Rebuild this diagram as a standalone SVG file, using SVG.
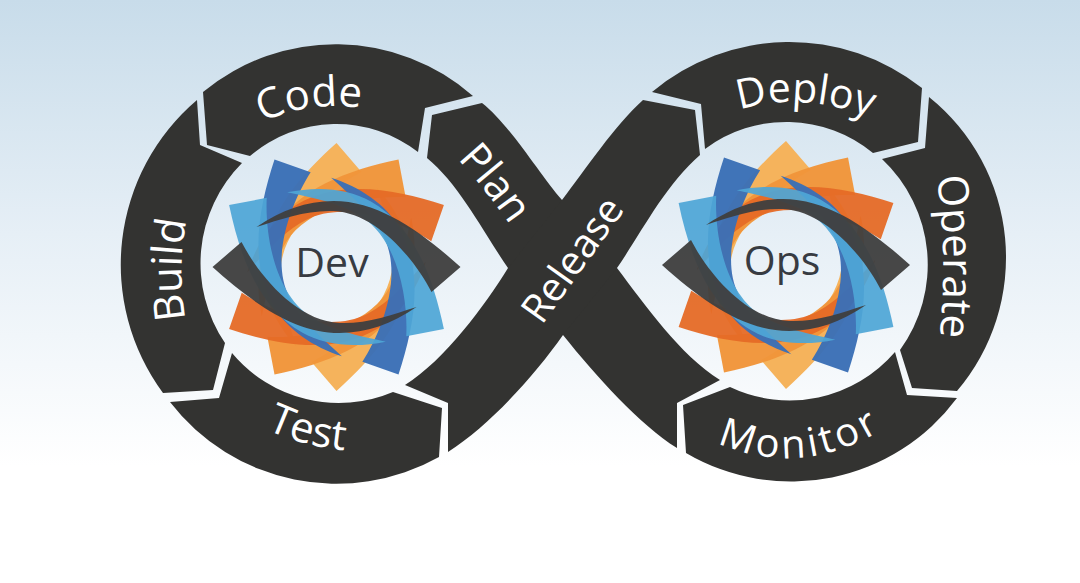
<svg xmlns="http://www.w3.org/2000/svg" width="1080" height="583" viewBox="0 0 1080 583">
<style>
.seg{fill:#333331}
.lbl{font-family:"Open Sans","Noto Sans",sans-serif;font-size:42px;fill:#fff;text-anchor:middle}
.hub{font-family:"Open Sans","Noto Sans",sans-serif;font-size:41px;fill:#373b42;text-anchor:middle}
</style>
<defs>
<linearGradient id="bg" x1="0" y1="0" x2="0" y2="1"><stop offset="0" stop-color="#c8dcea"/><stop offset=".4" stop-color="#e6eff6"/><stop offset=".8" stop-color="#fff"/><stop offset="1" stop-color="#fff"/></linearGradient>
<path id="blade" d="M124,0 L95,25 C78,-8 40,-54 -3,-56 C-30,-57 -55,-48 -80,-40 C-55,-57 -30,-66 -3,-66 C42,-66 84,-36 124,0Z"/>
<path id="petal" d="M124,0 L95,25 C78,-8 40,-54 -3,-56 C-30,-57 -55,-48 -80,-40 C-58,-60 -30,-74 -3,-74 C48,-74 90,-38 124,0Z"/>
<g id="flower">
<use href="#petal" transform="rotate(-90)" fill="#f5b35c"/><use href="#petal" transform="rotate(90)" fill="#f5b35c"/>
<use href="#petal" transform="rotate(-60)" fill="#f1953a" opacity=".97"/><use href="#petal" transform="rotate(120)" fill="#f1953a" opacity=".97"/>
<use href="#petal" transform="rotate(-30)" fill="#e56a26" opacity=".95"/><use href="#petal" transform="rotate(150)" fill="#e56a26" opacity=".95"/>
<use href="#petal" transform="rotate(-120)" fill="#3b70b6" opacity=".97"/><use href="#petal" transform="rotate(60)" fill="#3b70b6" opacity=".97"/>
<use href="#petal" transform="rotate(-150)" fill="#4fa6d6" opacity=".93"/><use href="#petal" transform="rotate(30)" fill="#4fa6d6" opacity=".93"/>
<use href="#blade" fill="#3f3f3f" opacity=".96"/><use href="#blade" transform="rotate(180)" fill="#3f3f3f" opacity=".96"/>
</g>
<path id="tCode" d="M248,131 Q303,95 378,111"/>
<path id="tBuild" d="M190,342 Q172,265 192,198"/>
<path id="tTest" d="M256,424 Q300,448 356,451"/>
<path id="tPlan" d="M452,153 Q485,188 515,232"/>
<path id="tRelease" d="M533,338 L634,197"/>
<path id="tDeploy" d="M728,114 Q795,87 882,121"/>
<path id="tOperate" d="M934,162 Q950,252 938,352"/>
<path id="tMonitor" d="M702,435 Q799,488 897,420"/>
</defs>
<rect width="1080" height="583" fill="url(#bg)"/>
<g id="code"><path class="seg" d="M203,92 A208,208 0 0 1 473,96 L425,108 L418,152 A133,133 0 0 0 250,156 L207,145Z"/><text class="lbl"><textPath href="#tCode" startOffset="50%">Code</textPath></text></g>
<g id="build"><path class="seg" d="M197,100 L200,145 L242,163 A142,142 0 0 0 225,343 L213,390 L163,393 A216,216 0 0 1 197,100Z"/><text class="lbl"><textPath href="#tBuild" startOffset="50%">Build</textPath></text></g>
<g id="test"><path class="seg" d="M170,402 L219,398 L232,353 A139,139 0 0 0 393,392 L442,408 L439,457 A210,210 0 0 1 170,402Z"/><text class="lbl"><textPath href="#tTest" startOffset="50%">Test</textPath></text></g>
<g id="plan"><path class="seg" d="M432,115 L482,103 C510,125 540,175 562,200 L617,268 C645,305 680,355 720,380 L677,403 L677,448 C640,425 595,375 563,335 L508,268 C485,235 460,185 427,158Z"/><text class="lbl"><textPath href="#tPlan" startOffset="50%">Plan</textPath></text></g>
<g id="release"><path class="seg" d="M643,100 L695,110 L700,155 C665,185 640,235 617,268 L563,335 C535,375 490,425 448,452 L448,403 L405,385 C445,360 485,305 508,268 L562,200 C585,170 615,125 643,100Z"/><text class="lbl" style="font-size:40px"><textPath href="#tRelease" startOffset="50%">Release</textPath></text></g>
<g id="deploy"><path class="seg" d="M652,92 A214,214 0 0 1 922,88 L918,142 L873,153 A136,136 0 0 0 705,149 L701,104Z"/><text class="lbl" style="font-size:41px"><textPath href="#tDeploy" startOffset="50%">Deploy</textPath></text></g>
<g id="operate"><path class="seg" d="M929,97 A206,206 0 0 1 957,391 L912,388 L900,350 A145,145 0 0 0 882,159 L925,148Z"/><text class="lbl"><textPath href="#tOperate" startOffset="50%">Operate</textPath></text></g>
<g id="monitor"><path class="seg" d="M957,398 L907,395 L895,352 A139,139 0 0 1 730,387 L683,405 L686,453 A207,207 0 0 0 957,398Z"/><text class="lbl" style="font-size:40px;letter-spacing:3.5px"><textPath href="#tMonitor" startOffset="50%">Monitor</textPath></text></g>
<g id="dev"><use href="#flower" transform="translate(336.5,267)"/><text class="hub" x="332" y="277">Dev</text></g>
<g id="ops"><use href="#flower" transform="translate(786,265)"/><text class="hub" x="782" y="275">Ops</text></g>
<g id="connectors"></g>
</svg>
